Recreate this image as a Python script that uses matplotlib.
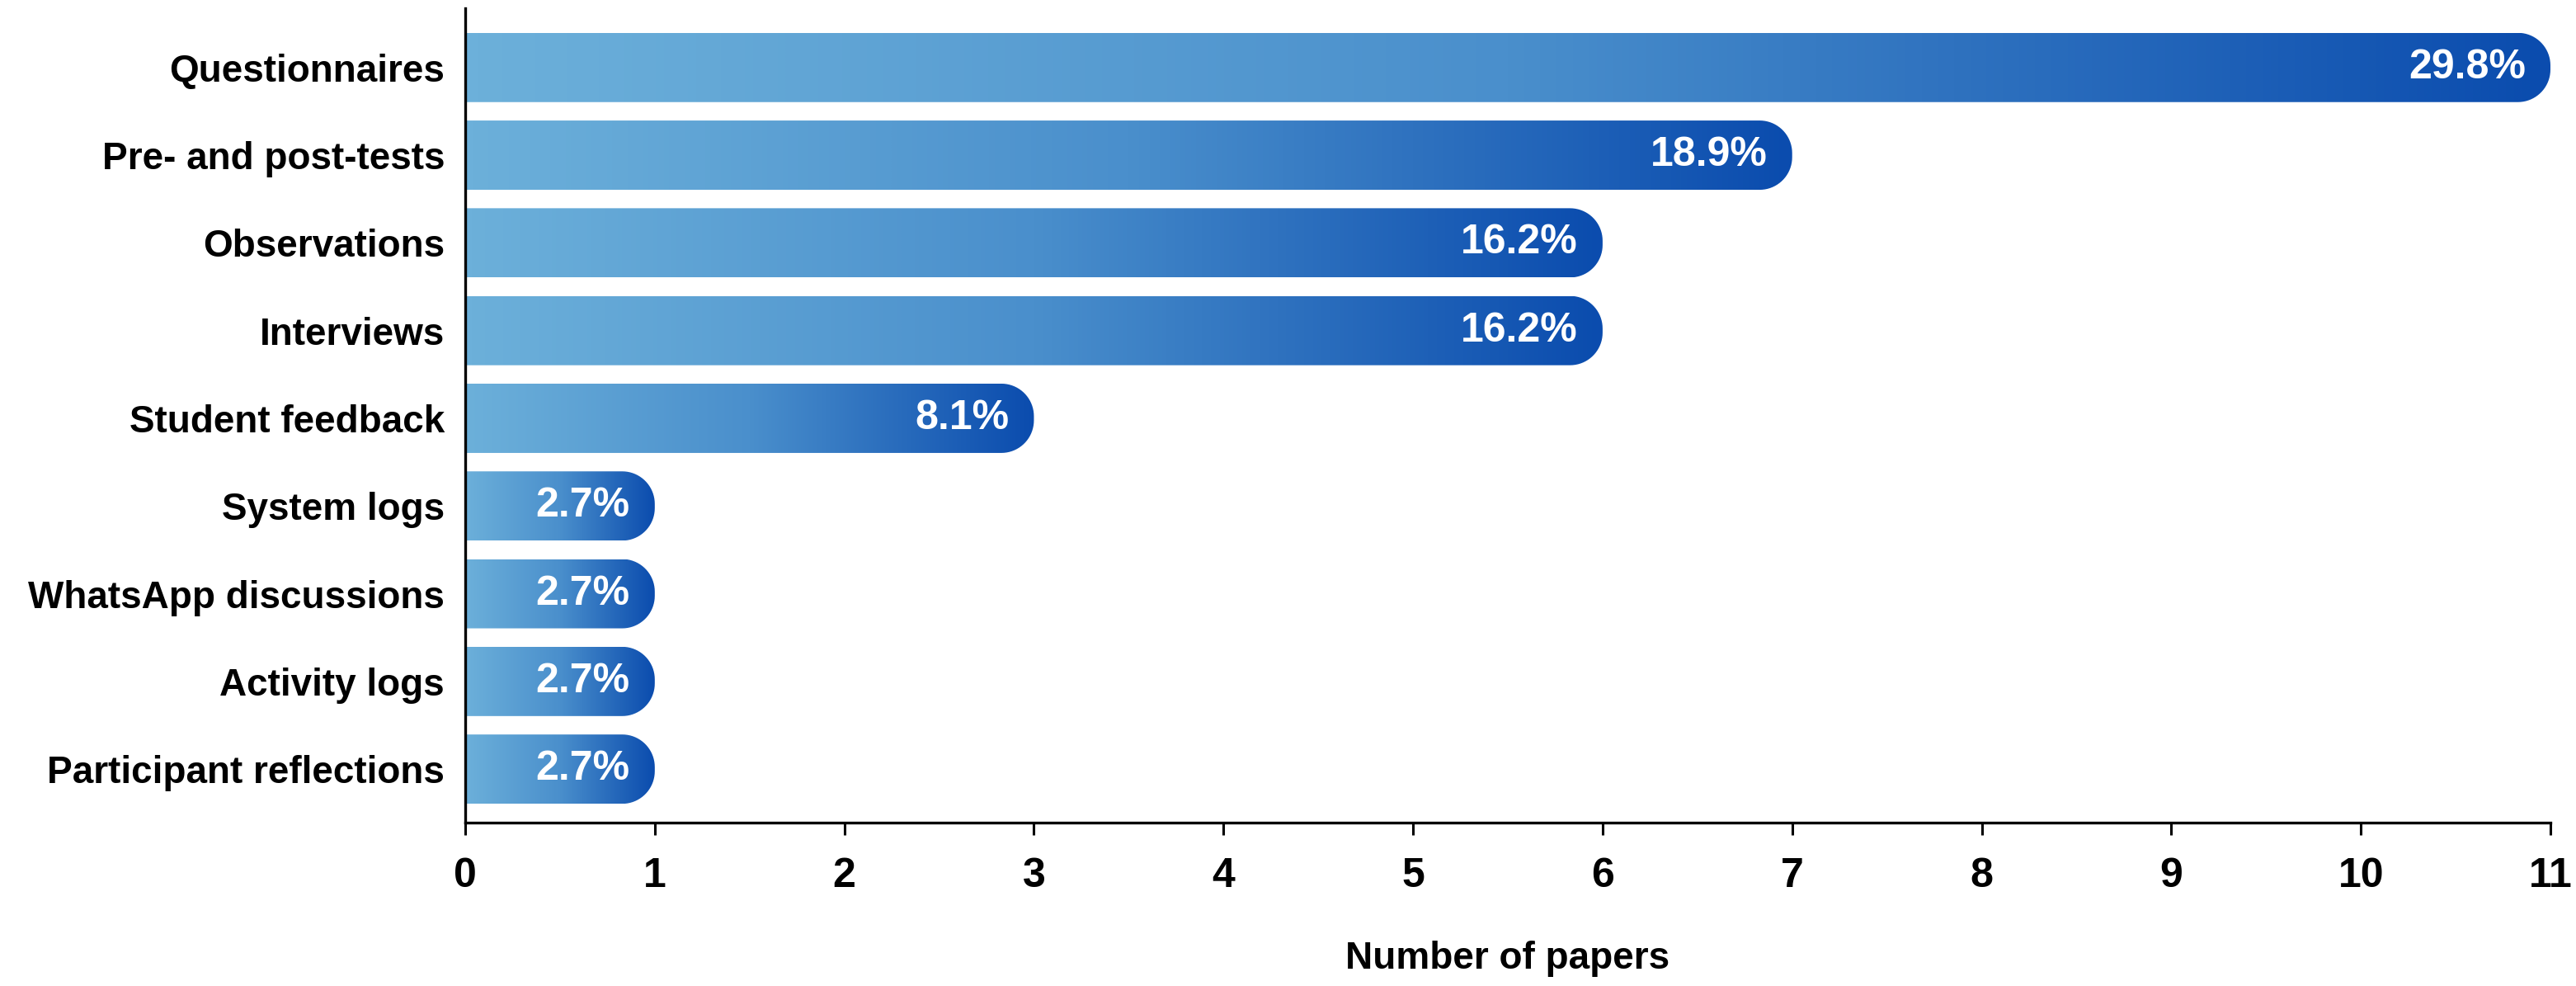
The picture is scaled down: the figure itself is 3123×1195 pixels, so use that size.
"""
Data collection methods: number of papers per method (horizontal gradient bars)
Output: out.png
"""

import numpy as np
import matplotlib.pyplot as plt
from matplotlib.path import Path
from matplotlib.patches import PathPatch
from matplotlib.colors import LinearSegmentedColormap

# Chart data
methods = [
    "Questionnaires",
    "Pre- and post-tests",
    "Observations",
    "Interviews",
    "Student feedback",
    "System logs",
    "WhatsApp discussions",
    "Activity logs",
    "Participant reflections",
]
papers = [11, 7, 6, 6, 3, 1, 1, 1, 1]
shares = [29.8, 18.9, 16.2, 16.2, 8.1, 2.7, 2.7, 2.7, 2.7]
x_ticks = list(range(0, 12))

plt.rcParams["font.family"] = ["Liberation Sans Narrow", "Liberation Sans", "DejaVu Sans"]
plt.rcParams["font.weight"] = "bold"

# Light to dark blue gradient, applied along each bar
cmap = LinearSegmentedColormap.from_list("bar_blue", ["#6cb0da", "#4a8fcc", "#0b4cae"])

W, H = 3123, 1195
fig = plt.figure(figsize=(W / 100, H / 100), dpi=100)
left, right, top, bottom = 564, 3092, 10, 997
ax = fig.add_axes([left / W, 1 - bottom / H, (right - left) / W, (bottom - top) / H])

y_lim = (len(methods) - 1 + 0.61, -0.675)
x_lim = (0, 11)
bar_h = 0.79

# pixel scale, used to keep the rounded ends circular
px_x = (right - left) / (x_lim[1] - x_lim[0])
px_y = (bottom - top) / (y_lim[0] - y_lim[1])

grad = np.linspace(0, 1, 256).reshape(1, -1)
for i, (v, s) in enumerate(zip(papers, shares)):
    y0, y1 = i - bar_h / 2, i + bar_h / 2
    ry = bar_h * 0.47
    rx = ry * px_y / px_x
    # rounded right end, square left end
    t1 = np.linspace(-np.pi / 2, 0, 20)
    t2 = np.linspace(0, np.pi / 2, 20)
    verts = [(0, y0), (v - rx, y0)]
    verts += [(v - rx + rx * np.cos(t), y0 + ry + ry * np.sin(t)) for t in t1]
    verts += [(v - rx + rx * np.cos(t), y1 - ry + ry * np.sin(t)) for t in t2]
    verts += [(0, y1), (0, y0)]
    patch = PathPatch(Path(verts), facecolor="none", edgecolor="none")
    ax.add_patch(patch)
    im = ax.imshow(grad, extent=[0, v, y1, y0], aspect="auto", cmap=cmap,
                   interpolation="bilinear", zorder=2)
    im.set_clip_path(patch)

    ax.annotate(f"{s}%", xy=(v, i), xytext=(-30, 0), textcoords="offset pixels",
                ha="right", va="center", color="white", fontsize=36,
                fontweight="bold", zorder=3)

ax.set_xlim(*x_lim)
ax.set_ylim(*y_lim)
ax.set_aspect("auto")

ax.set_yticks(range(len(methods)))
ax.set_yticklabels(methods)
ax.set_xticks(x_ticks)
ax.tick_params(axis="y", length=0, pad=18, labelsize=33)
ax.tick_params(axis="x", length=11, width=2.2, pad=19, labelsize=36)
ax.set_xlabel("Number of papers", fontsize=33, fontweight="bold", labelpad=40)

for side in ["top", "right"]:
    ax.spines[side].set_visible(False)
for side in ["left", "bottom"]:
    ax.spines[side].set_linewidth(2.4)

plt.savefig("out.png", dpi=100)
